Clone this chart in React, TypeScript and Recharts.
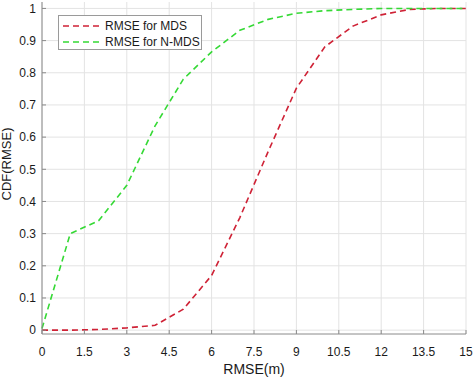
import React from 'react';
import { LineChart, Line, XAxis, YAxis, CartesianGrid } from 'recharts';

// RMSE sample points (m)
const rmse = [0, 1, 2, 3, 4, 5, 6, 7, 8, 9, 10, 11, 12, 13, 14, 15];
// CDF values
const cdfMds = [0, 0, 0.002, 0.007, 0.015, 0.065, 0.17, 0.35, 0.555, 0.752, 0.88, 0.945, 0.98, 0.997, 1, 1];
const cdfNmds = [0.005, 0.3, 0.34, 0.45, 0.635, 0.78, 0.865, 0.932, 0.966, 0.985, 0.993, 0.997, 1, 1, 1, 1];

const xTicks = [0, 1.5, 3, 4.5, 6, 7.5, 9, 10.5, 12, 13.5, 15];
const yTicks = [0, 0.1, 0.2, 0.3, 0.4, 0.5, 0.6, 0.7, 0.8, 0.9, 1];

const seriesNames = ['RMSE for MDS', 'RMSE for N-MDS'];
const seriesColors = ['#cf2236', '#35d935'];

const data = rmse.map((x, i) => ({ x, mds: cdfMds[i], nmds: cdfNmds[i] }));

const font = '"Liberation Sans", Arial, sans-serif';
const boxColor = '#8a8a8a';
const tickStyle = { fontSize: 12, fill: '#1a1a1a', fontFamily: font };

function LegendBox() {
  return (
    <div
      style={{
        position: 'absolute',
        left: 58,
        top: 15,
        width: 142,
        height: 33,
        background: '#fff',
        border: '1px solid #9a9a9a',
        fontFamily: font,
        fontSize: 12,
        color: '#1a1a1a',
      }}
    >
      {seriesNames.map((name, i) => (
        <div key={name} style={{ position: 'absolute', left: 3, top: 2 + i * 16, height: 16, display: 'flex', alignItems: 'center' }}>
          <svg width={38} height={4} style={{ marginRight: 5 }}>
            <line x1={1} y1={2} x2={37} y2={2} stroke={seriesColors[i]} strokeWidth={1.6} strokeDasharray="6 4" />
          </svg>
          <span>{name}</span>
        </div>
      ))}
    </div>
  );
}

export default function App() {
  return (
    <div style={{ position: 'absolute', left: 0, top: 0, width: 474, height: 379, background: '#fff' }}>
      <LineChart width={474} height={379} data={data} margin={{ top: 2, right: 8, left: 0, bottom: 0 }}>
        <CartesianGrid stroke="#e3e3e3" horizontalValues={yTicks} verticalValues={xTicks} />
        <XAxis
          dataKey="x"
          type="number"
          domain={[0, 15]}
          ticks={xTicks}
          height={45}
          tickSize={-4}
          tickMargin={17}
          tick={tickStyle}
          stroke={boxColor}
          axisLine={{ stroke: boxColor }}
          tickLine={{ stroke: boxColor }}
          label={{ value: 'RMSE(m)', position: 'insideBottom', offset: 5, style: { fontSize: 14, fill: '#1a1a1a', fontFamily: font } }}
        />
        <XAxis
          xAxisId="top"
          orientation="top"
          dataKey="x"
          type="number"
          domain={[0, 15]}
          ticks={xTicks}
          height={0}
          tickSize={-4}
          tick={false}
          axisLine={{ stroke: boxColor }}
          tickLine={{ stroke: boxColor }}
        />
        <YAxis
          type="number"
          domain={[-0.012, 1.02]}
          allowDataOverflow
          ticks={yTicks}
          width={42}
          tickSize={-4}
          tickMargin={10}
          tick={tickStyle}
          axisLine={{ stroke: boxColor }}
          tickLine={{ stroke: boxColor }}
          label={({ viewBox }: any) => (
            <text
              x={6}
              y={viewBox.y + viewBox.height / 2 - 4}
              transform={`rotate(-90, 6, ${viewBox.y + viewBox.height / 2 - 4})`}
              textAnchor="middle"
              dominantBaseline="central"
              style={{ fontSize: 13, fill: '#1a1a1a', fontFamily: font }}
            >
              CDF(RMSE)
            </text>
          )}
        />
        <YAxis
          yAxisId="right"
          orientation="right"
          type="number"
          domain={[-0.012, 1.02]}
          allowDataOverflow
          ticks={yTicks}
          width={0}
          tickSize={-4}
          tick={false}
          axisLine={{ stroke: boxColor }}
          tickLine={{ stroke: boxColor }}
        />
        <Line
          type="linear"
          dataKey="mds"
          name={seriesNames[0]}
          stroke={seriesColors[0]}
          strokeWidth={1.6}
          strokeDasharray="6 4"
          dot={false}
          isAnimationActive={false}
        />
        <Line
          type="linear"
          dataKey="nmds"
          name={seriesNames[1]}
          stroke={seriesColors[1]}
          strokeWidth={1.6}
          strokeDasharray="6 4"
          dot={false}
          isAnimationActive={false}
        />
      </LineChart>
      <LegendBox />
    </div>
  );
}
